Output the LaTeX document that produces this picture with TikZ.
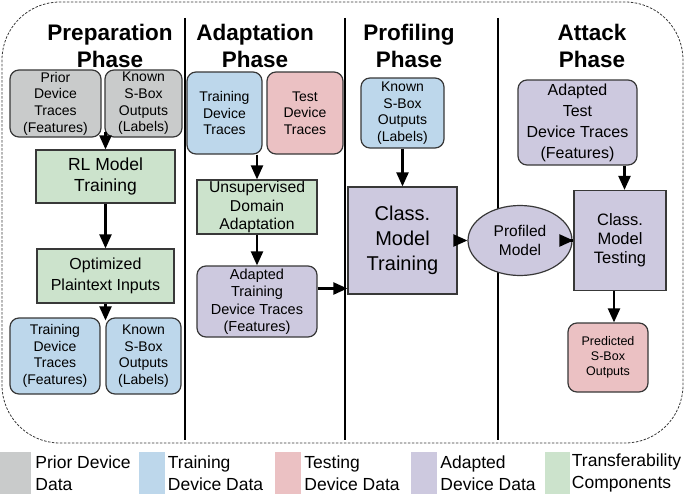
\documentclass[tikz,border=0pt]{standalone}
\usepackage{fontspec}
\setmainfont{Liberation Sans}
\usepackage{tikz}
\usetikzlibrary{arrows.meta,positioning,shapes.geometric,calc}
\definecolor{prior}{HTML}{C9CBCB}
\definecolor{train}{HTML}{BDD7EB}
\definecolor{test}{HTML}{EBC1C3}
\definecolor{adapt}{HTML}{CDC9DF}
\definecolor{transfer}{HTML}{CCE3CC}
\definecolor{edge}{HTML}{383838}
\tikzset{
  >={Triangle[length=14pt,width=12pt]},
  flow/.style={->,line width=2.2pt},
  databox/.style={rounded corners=9pt,draw=edge,line width=1.2pt,align=center,inner sep=0pt,
    font=\fontsize{14}{16.7}\selectfont},
  stepbox/.style={draw=edge,line width=1.2pt,align=center,inner sep=0pt,fill=transfer},
  modelbox/.style={draw=edge,line width=1.2pt,align=center,inner sep=0pt,fill=adapt},
  phasetitle/.style={align=center,font=\bfseries\fontsize{22.5}{26.5}\selectfont},
  swatch/.style={inner sep=0pt,minimum width=26pt,minimum height=42pt},
  legendtext/.style={align=left,inner sep=0pt,anchor=west,font=\fontsize{17.5}{21.5}\selectfont}
}

\begin{document}
\begin{tikzpicture}[x=1pt,y=-1pt]
  \useasboundingbox (0,0) rectangle (685,495);
  % frame and phase separators
  \draw[edge,line width=0.8pt,dash pattern=on 2.5pt off 1.5pt,rounded corners=58pt] (2,2) rectangle (683,443);
  \foreach \x in {185,345,498} \draw[line width=2.4pt] (\x,18) -- (\x,440);

  \node[phasetitle] (tprep) at (110,46) {Preparation\\Phase};
  \node[phasetitle] (tadapt) at (255,46) {Adaptation\\Phase};
  \node[phasetitle] (tprof) at (409,46) {Profiling\\Phase};
  \node[phasetitle] (tattack) at (592,46) {Attack\\Phase};

  % preparation phase
  \node[databox,fill=prior,minimum width=91,minimum height=67] (prior) at (55.5,103.5) {Prior\\Device\\Traces\\(Features)};
  \node[databox,fill=prior,minimum width=77,minimum height=67] (knownA) at (143.5,103.5) {Known\\S-Box\\Outputs\\(Labels)};
  \node[stepbox,minimum width=139,minimum height=53,font=\fontsize{17.5}{20.5}\selectfont] (rl) at (105.5,176.5) {RL Model\\Training};
  \node[stepbox,minimum width=137,minimum height=54,font=\fontsize{16}{20.5}\selectfont] (opt) at (105.5,276) {Optimized\\Plaintext Inputs};
  \node[databox,fill=train,minimum width=90,minimum height=76] (trainA) at (55,356) {Training\\Device\\Traces\\(Features)};
  \node[databox,fill=train,minimum width=75,minimum height=76] (knownB) at (143.5,356) {Known\\S-Box\\Outputs\\(Labels)};

  \coordinate (prepin) at ($(prior.south east)!0.5!(knownA.south west)$);
  \coordinate (prepout) at ($(trainA.north east)!0.5!(knownB.north west)$);
  \draw[flow] ([yshift=6pt]prepin -| rl.north) -- (rl.north);
  \draw[flow] (rl) -- (opt);
  \draw[flow] (opt.south) -- ([yshift=-3pt]prepout -| opt.south);

  % adaptation phase
  \node[databox,fill=train,minimum width=75,minimum height=82] (trainB) at (224.5,113) {Training\\Device\\Traces};
  \node[databox,fill=test,minimum width=76,minimum height=82] (test) at (305,113) {Test\\Device\\Traces};
  \node[stepbox,minimum width=120,minimum height=54,font=\fontsize{15.7}{18.5}\selectfont] (uda) at (257,207) {Unsupervised\\Domain\\Adaptation};
  \node[databox,fill=adapt,minimum width=120,minimum height=71,font=\fontsize{14.5}{17.5}\selectfont] (adTrain) at (257,301.5) {Adapted\\Training\\Device Traces\\(Features)};

  \draw[flow] (trainB.south -| uda.north) -- (uda.north);
  \draw[flow] (uda) -- (adTrain);

  % profiling phase
  \node[databox,fill=train,minimum width=83,minimum height=70] (knownC) at (402.5,113) {Known\\S-Box\\Outputs\\(Labels)};
  \node[modelbox,minimum width=109,minimum height=107,font=\fontsize{20}{25}\selectfont] (clsTrain) at (402.5,240.5) {Class.\\Model\\Training};
  \node[ellipse,draw=edge,line width=1.2pt,fill=adapt,inner sep=0pt,minimum width=104,minimum height=70,
    align=center,font=\fontsize{15.5}{19}\selectfont] (model) at (520,240.5) {Profiled\\Model};

  \draw[flow] ([yshift=13pt]adTrain.east) -- ([yshift=13pt]adTrain.east -| clsTrain.west);
  \draw[flow] (knownC) -- (clsTrain);
  \draw[flow] (clsTrain.east) -- (model.west);

  % attack phase
  \node[databox,fill=adapt,minimum width=119,minimum height=85,font=\fontsize{16}{21}\selectfont] (adTest) at (577.5,122.5) {Adapted\\Test\\Device Traces\\(Features)};
  \node[modelbox,minimum width=92,minimum height=100,font=\fontsize{16.5}{19}\selectfont] (clsTest) at (620,240.5) {Class.\\Model\\Testing};
  \node[databox,fill=test,minimum width=80,minimum height=69,font=\fontsize{12.5}{15}\selectfont] (pred) at (608,357.5) {Predicted\\S-Box\\Outputs};

  \draw[flow] (model.east) -- (clsTest.west);
  \draw[flow] ([xshift=47pt]adTest.south) -- ([xshift=47pt]adTest.south |- clsTest.north);
  \draw[flow] ([xshift=-6pt]clsTest.south) -- ([xshift=-6pt]clsTest.south |- pred.north);

  % legend
  \node[swatch,fill=prior,minimum width=31] (lgprior) at (15.5,473) {};
  \node[legendtext,right=4pt of lgprior] (lgpriortext) {Prior Device\\Data};
  \node[swatch,fill=train] (lgtrain) at (151.5,473) {};
  \node[legendtext,right=3pt of lgtrain] (lgtraintext) {Training\\Device Data};
  \node[swatch,fill=test] (lgtest) at (288,473) {};
  \node[legendtext,right=3pt of lgtest] (lgtesttext) {Testing\\Device Data};
  \node[swatch,fill=adapt] (lgadapt) at (424,473) {};
  \node[legendtext,right=3pt of lgadapt] (lgadapttext) {Adapted\\Device Data};
  \node[swatch,fill=transfer,minimum width=25] (lgtransfer) at (557,473) {};
  \node[legendtext,right=2pt of lgtransfer] (lgtransfertext) {Transferability\\Components};
\end{tikzpicture}
\end{document}
